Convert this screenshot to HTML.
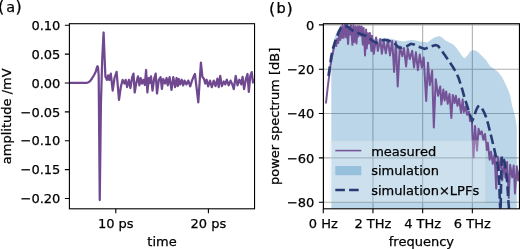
<!DOCTYPE html>
<html><head><meta charset="utf-8"><title>figure</title>
<style>html,body{margin:0;padding:0;background:#fff;width:520px;height:249px;overflow:hidden}svg{display:block}</style>
</head><body>
<svg width="520" height="249" viewBox="0 0 520 249">
<rect width="520" height="249" fill="#ffffff"/>
<defs><clipPath id="cl"><rect x="69.4" y="23.7" width="185.15" height="185.10000000000002"/></clipPath>
<clipPath id="cr"><rect x="323.45" y="23.7" width="196.00000000000006" height="185.10000000000002"/></clipPath></defs>
<polyline clip-path="url(#cl)" points="69.4,82.97 86.5,82.95 88.5,82.3 90.5,80.6 92.3,78 94.1,75 95.8,71.5 96.9,67.5 97.5,66.2 98.1,67.8 98.7,76 99.75,200.1 100.9,105 102.2,60 103.6,32.5 104.6,58 105.4,76.5 106.9,79.9 108.1,75.4 109.4,79.9 110.8,73.6 112.7,90.7 114.5,78 116.6,71.8 119,99.8 120.8,87.1 122.6,79.9 124.4,83.5 125.7,79.9 127.1,87.1 128.9,79.9 130.4,88 132.2,77.2 133.5,73.6 134.7,92.5 136.2,83.5 138,76.3 139.4,85.3 140.7,78.1 142,83.5 143.4,79.9 144.8,85 146.1,70 147.4,92.5 148.8,78 149.8,83 151,76.3 152.5,90.7 154.3,78 155.7,73.6 157,93.5 158.8,79.9 160.6,77.2 161.9,88.9 163.3,79 165.1,83.5 166.6,78 167.8,85.3 169.6,77.2 171.5,89.8 173.3,77.2 175.1,87.1 176.6,78 177.8,86 178.8,79 180.2,84.4 181.7,79.7 183.2,85.4 184.5,80.6 186.4,84.4 188.3,80.6 190.2,86.3 192,80.6 193.9,75.9 194.9,74 196.4,86.3 198.3,102.3 199.6,82.5 200.9,62.7 202.4,76.9 203.9,78.8 205.2,83.5 206.6,79.7 208.1,86.3 210,80.6 211.8,87.2 213.7,80.6 215.5,86.2 217.4,78.7 218.7,87.2 220.2,75.9 221.9,86.2 223.8,81.5 225.3,84.4 226.8,79.7 228.7,85.3 230.6,80.6 232.3,84.4 233.8,89.1 235.7,75.9 237.5,85.3 239.4,79.7 241.3,84.4 242.6,76.8 244.1,89.1 246,78.7 247.5,74 248.8,91.9 250.3,75.9 251.7,72.1 253,82.5 254.6,80" fill="none" stroke="#6f4890" stroke-width="2.25" stroke-linejoin="round" stroke-linecap="round"/>
<path d="M323.25 23.7V208.8 M372.95 23.7V208.8 M422.65 23.7V208.8 M472.35 23.7V208.8 M323.45 24.9H519.45 M323.45 69.22H519.45 M323.45 113.54H519.45 M323.45 157.86H519.45 M323.45 202.18H519.45" stroke="#b0b0b0" stroke-width="1.1" fill="none"/>
<polygon clip-path="url(#cr)" points="331.3,208.8 331.3,60 332.5,47 334.5,38 337,31 340,27 343,25.3 346,24.6 349,24.6 352,25.8 356,27.5 360,29.5 364,32 368,34.5 372,37.5 376,39.5 380,38.8 384,38 388,38.2 392,39 396,40 400,41 404,41.5 408,40.5 412,40 416,40.5 420,41.5 424,42 427.7,42.5 431.6,39.3 434.5,37.4 439.3,35.9 442.2,37.4 445,40.3 448.9,42.2 452.8,44.2 456.6,48 460.5,53.8 464.3,58.6 468.2,54.8 470,51.5 474,50 478,52 482,56 486,60 490,66.1 494.1,69.1 498.1,72.1 502.1,77.1 505.1,83.2 508.2,90 510.1,95 512.1,105.7 514.5,113.7 516.1,121.8 516.8,128 516.8,208.8" fill="#1f77b4" fill-opacity="0.3"/>
<polyline clip-path="url(#cr)" points="325.9,103.5 328,85 330.7,64 332.6,54 334,47 335.2,44 336.2,46 337.2,39 338.2,43 339.2,34 340.2,40 341,30 342.01,37.8 342.54,25.07 343.63,37.83 345.17,24.23 346.02,37.18 346.92,24.76 348.06,44 349.2,26.89 350.02,34.62 350.98,25.33 352.42,44.82 353.4,25.15 354.36,41.98 355.59,26.21 356.48,43.43 357.79,26.32 358.37,36.13 359.63,26.33 360.64,35.59 361.61,26.5 362.8,44.58 363.64,27.89 365.03,55.4 366.12,29.42 366.73,48.51 367.98,33.29 368.92,43.47 369.85,33.12 371.39,50.89 371.96,35.65 373.79,53.86 376.1,37.41 377.82,50.99 380.24,38.94 381.83,53.73 383.72,41.11 385.82,53.33 387.91,39.65 389.98,55.44 392.24,40.92 394.12,72 395.9,41.71 397.71,86.5 399.8,46.62 402.3,56.27 403.98,48.02 406.11,66.5 407.73,48.3 409.72,59.09 412.21,50.85 414.05,67.41 415.89,52.31 417.89,70.18 419.75,54.58 421.8,67.47 423.71,57.55 426.2,101 427.98,62.69 429.78,85.18 432.14,70.79 433.82,127.5 435.74,79.22 438.06,95.69 440.24,86.41 441.32,104.6 443.38,89.6 444.61,100.5 446.16,91.46 447.71,103.84 449.48,93.9 451.34,118 452.8,94.93 454.61,103 455.83,95.72 457.49,105.85 459.05,98.82 461.09,112.8 462.66,99.38 463.9,112.06 465.56,106.72 467.09,114.77 468.95,111.62 470.12,121.06 471.74,117.97 473.54,157.4 475.05,125.88 477.01,150.6 478.55,128.77 480.03,134.24 481.7,131.28 483.32,139.7 484.97,133.93 486.66,150 487.79,142.68 489.68,159.69 490.99,151.67 492.77,163.85 494.57,154.55 496.24,188.6 497.76,156.86 498.92,170.08 500.72,158.39 502.2,180.49 504.3,159.95 505.39,177.59 507.05,162.06 508.71,198 510.14,164.87 512.22,177.37 513.68,165.46 515,193.4 516.8,166.29 518.15,180.5 520.07,168.32" fill="none" stroke="#6f4890" stroke-width="2.0" stroke-linejoin="round" stroke-opacity="0.92"/>
<polyline clip-path="url(#cr)" points="328.5,76 331.2,57 332.8,49 335.3,41 338.5,32.5 341,27.5 344.7,25.8 348,27 351,29.5 354,31.5 358,33 362,34.5 366,36 371.2,39.8 376,43 380,40.8 384.7,39.8 387.7,40.4 393.8,42.5 398.5,47.5 402,47.8 406.2,46.6 410.8,43.8 414,44.5 418.5,46.6 424.6,48.9 430.8,46.6 435.4,45 438,45.8 441.3,50 447,58.3 452.9,67 456.1,72.4 458.6,78 461.7,87.6 464.6,98 467.5,107 470,115 472.3,120.5 474,117 476,110.5 478,106.5 479.5,105.8 481.5,107.5 484,112 486,117 488,123.5 491,135.5 494,148 496.5,158.7 498.2,168 499.3,185 500,205 500.6,212 501.2,175 501.9,156 503,157 505,164 507,180 508.3,200 509.5,215" fill="none" stroke="#2a3b74" stroke-width="2.6" stroke-dasharray="9.6 4.2"/>
<rect x="69.4" y="23.7" width="185.15" height="185.10000000000002" fill="none" stroke="#000" stroke-width="1.1"/>
<rect x="323.45" y="23.7" width="196.00000000000006" height="185.10000000000002" fill="none" stroke="#000" stroke-width="1.1"/>
<path d="M64.85 25.2H69.4 M64.85 54.08H69.4 M64.85 82.97H69.4 M64.85 111.86H69.4 M64.85 140.74H69.4 M64.85 169.62H69.4 M64.85 198.51H69.4 M115.8 208.8V213.35 M208.4 208.8V213.35 M318.9 24.9H323.45 M318.9 69.22H323.45 M318.9 113.54H323.45 M318.9 157.86H323.45 M318.9 202.18H323.45 M323.25 208.8V213.35 M372.95 208.8V213.35 M422.65 208.8V213.35 M472.35 208.8V213.35" stroke="#000" stroke-width="1.1" fill="none"/>
<rect x="330.1" y="140.8" width="155.39999999999998" height="61.5" rx="2.6" fill="#ffffff" fill-opacity="0.25" stroke="#cccccc" stroke-opacity="0.25" stroke-width="1.04"/>
<path d="M335.3 150.6H361.3" stroke="#6f4890" stroke-width="1.6" stroke-opacity="0.9"/>
<rect x="335.3" y="166" width="26.0" height="9.2" fill="#1f77b4" fill-opacity="0.3"/>
<path d="M335.3 190H361.3" stroke="#2a3b74" stroke-width="2.6" stroke-dasharray="9.6 4.2"/>
<g font-family="'DejaVu Sans', 'Liberation Sans', sans-serif" font-size="13" fill="#000" stroke="#000" stroke-width="0.25">
<text x="60.35" y="29.9" text-anchor="end">0.10</text>
<text x="60.35" y="58.78" text-anchor="end">0.05</text>
<text x="60.35" y="87.67" text-anchor="end">0.00</text>
<text x="60.35" y="116.56" text-anchor="end">−0.05</text>
<text x="60.35" y="145.44" text-anchor="end">−0.10</text>
<text x="60.35" y="174.32" text-anchor="end">−0.15</text>
<text x="60.35" y="203.21" text-anchor="end">−0.20</text>
<text x="115.8" y="228" text-anchor="middle">10 ps</text>
<text x="208.4" y="228" text-anchor="middle">20 ps</text>
<text x="314.4" y="29.6" text-anchor="end">0</text>
<text x="314.4" y="73.92" text-anchor="end">−20</text>
<text x="314.4" y="118.24" text-anchor="end">−40</text>
<text x="314.4" y="162.56" text-anchor="end">−60</text>
<text x="314.4" y="206.88" text-anchor="end">−80</text>
<text x="323.25" y="228" text-anchor="middle">0 Hz</text>
<text x="372.95" y="228" text-anchor="middle">2 THz</text>
<text x="422.65" y="228" text-anchor="middle">4 THz</text>
<text x="472.35" y="228" text-anchor="middle">6 THz</text>
<text x="162" y="246" text-anchor="middle">time</text>
<text x="421.4" y="245.6" text-anchor="middle">frequency</text>
<text transform="translate(11.3,116.3) rotate(-90)" text-anchor="middle">amplitude /mV</text>
<text transform="translate(279.3,116.4) rotate(-90)" text-anchor="middle">power spectrum [dB]</text>
<text x="371.2" y="155.8">measured</text>
<text x="371.2" y="175.3">simulation</text>
<text x="371.2" y="194.7">simulation×LPFs</text>
<text x="-1.9" y="12.3" font-size="16">(</text><text x="6.3" y="11.9" font-size="14.5">a</text><text x="15.6" y="12.3" font-size="16">)</text>
<text x="269.0" y="13.7" font-size="16">(</text><text x="276.4" y="12.9" font-size="14.5">b</text><text x="286.4" y="13.7" font-size="16">)</text>
</g>
</svg>
</body></html>
